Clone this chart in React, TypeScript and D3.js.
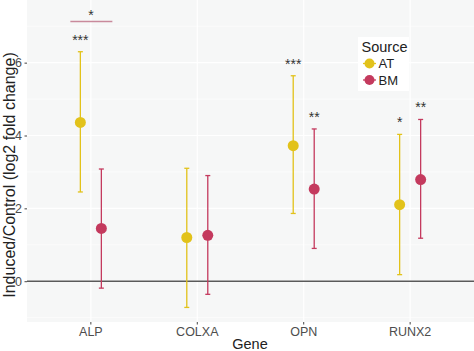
import React, { useEffect, useRef } from 'react';
import * as d3 from 'd3';

const genes = ['ALP', 'COLXA', 'OPN', 'RUNX2'];
const sources = ['AT', 'BM'];
const colors = ['#E2C21A', '#C43A5E'];

// per gene, order matches genes
const atMean = [4.36, 1.2, 3.72, 2.1];
const atLow = [2.45, -0.72, 1.86, 0.18];
const atHigh = [6.3, 3.1, 5.64, 4.03];
const bmMean = [1.45, 1.26, 2.53, 2.79];
const bmLow = [-0.19, -0.36, 0.9, 1.18];
const bmHigh = [3.08, 2.9, 4.18, 4.44];

const atStars = ['***', '', '***', '*'];
const bmStars = ['', '', '**', '**'];
const yTicks = [0, 2, 4, 6];

const App = () => {
  const svgRef = useRef<SVGSVGElement>(null);

  useEffect(() => {
    const svg = d3.select(svgRef.current);
    svg.selectAll('*').remove();

    const width = 474;
    const height = 351;
    const margin = { top: 0, right: 0, bottom: 29, left: 27 };
    const font = 'Liberation Sans, Arial, sans-serif';

    const x = d3.scaleBand()
      .domain(genes)
      .range([margin.left, width - margin.right])
      .paddingOuter(0.1)
      .paddingInner(0);

    const y = d3.scaleLinear()
      .domain([-1.12, 7.72])
      .range([height - margin.bottom, margin.top]);

    const dodge = d3.scaleBand()
      .domain(sources)
      .range([-21, 21])
      .padding(0);

    const cx = (g: string) => (x(g) as number) + x.bandwidth() / 2;

    // panel
    svg.append('rect')
      .attr('x', margin.left)
      .attr('y', margin.top)
      .attr('width', width - margin.left - margin.right)
      .attr('height', height - margin.bottom - margin.top)
      .attr('fill', '#F6F7F7');

    // minor grid
    svg.append('g').selectAll('line')
      .data([-1, 1, 3, 5, 7])
      .join('line')
      .attr('x1', margin.left).attr('x2', width)
      .attr('y1', d => y(d)).attr('y2', d => y(d))
      .attr('stroke', '#ffffff').attr('stroke-width', 0.6);

    svg.append('g').selectAll('line')
      .data(yTicks)
      .join('line')
      .attr('x1', margin.left).attr('x2', width)
      .attr('y1', d => y(d)).attr('y2', d => y(d))
      .attr('stroke', '#ffffff').attr('stroke-width', 1.2);

    svg.append('g').selectAll('line')
      .data(genes)
      .join('line')
      .attr('x1', d => cx(d)).attr('x2', d => cx(d))
      .attr('y1', margin.top).attr('y2', height - margin.bottom)
      .attr('stroke', '#ffffff').attr('stroke-width', 1.2);

    // zero line
    svg.append('line')
      .attr('x1', margin.left).attr('x2', width)
      .attr('y1', y(0)).attr('y2', y(0))
      .attr('stroke', '#5a5a5a').attr('stroke-width', 1.4);

    // y axis
    const yAxis = svg.append('g')
      .attr('transform', `translate(${margin.left},0)`)
      .call(d3.axisLeft(y).tickValues(yTicks).tickSize(2.5).tickPadding(2.5));
    yAxis.select('.domain').remove();
    yAxis.selectAll('line').attr('stroke', '#444');
    yAxis.selectAll('text')
      .attr('fill', '#4d4d4d').attr('font-size', 12.5).attr('font-family', font);

    // x axis
    const xAxis = svg.append('g')
      .attr('transform', `translate(0,${height - margin.bottom})`)
      .call(d3.axisBottom(x).tickSize(2.5).tickPadding(3));
    xAxis.select('.domain').remove();
    xAxis.selectAll('line').attr('stroke', '#444');
    xAxis.selectAll('text')
      .attr('fill', '#4d4d4d').attr('font-size', 12.5).attr('font-family', font);

    // axis titles
    svg.append('text')
      .attr('x', 250)
      .attr('y', height - 2)
      .attr('text-anchor', 'middle')
      .attr('font-size', 14.5).attr('font-family', font).attr('fill', '#222')
      .text('Gene');

    svg.append('text')
      .attr('transform', `translate(15,175) rotate(-90)`)
      .attr('text-anchor', 'middle')
      .attr('font-size', 16).attr('font-family', font).attr('fill', '#222')
      .text('Induced/Control (log2 fold change)');

    const series = [
      { key: 'AT', mean: atMean, low: atLow, high: atHigh, stars: atStars, color: colors[0] },
      { key: 'BM', mean: bmMean, low: bmLow, high: bmHigh, stars: bmStars, color: colors[1] },
    ];

    series.forEach(s => {
      const px = (i: number) => cx(genes[i]) + (dodge(s.key) as number) + dodge.bandwidth() / 2;
      const g = svg.append('g');
      genes.forEach((gene, i) => {
        const xx = px(i);
        g.append('line')
          .attr('x1', xx).attr('x2', xx)
          .attr('y1', y(s.low[i])).attr('y2', y(s.high[i]))
          .attr('stroke', s.color).attr('stroke-width', 1.3);
        [s.low[i], s.high[i]].forEach(v => {
          g.append('line')
            .attr('x1', xx - 2.5).attr('x2', xx + 2.5)
            .attr('y1', y(v)).attr('y2', y(v))
            .attr('stroke', s.color).attr('stroke-width', 1.3);
        });
        g.append('circle')
          .attr('cx', xx).attr('cy', y(s.mean[i]))
          .attr('r', 5.5)
          .attr('fill', s.color);
        if (s.stars[i]) {
          g.append('text')
            .attr('x', xx).attr('y', y(s.high[i]) - 7)
            .attr('text-anchor', 'middle')
            .attr('font-size', 14).attr('font-family', font).attr('fill', '#333')
            .text(s.stars[i]);
        }
      });
    });

    // ALP comparison bracket
    const atX = cx('ALP') + (dodge('AT') as number) + dodge.bandwidth() / 2;
    const bmX = cx('ALP') + (dodge('BM') as number) + dodge.bandwidth() / 2;
    svg.append('line')
      .attr('x1', atX - 10).attr('x2', bmX + 11)
      .attr('y1', 21.5).attr('y2', 21.5)
      .attr('stroke', '#C98A9C').attr('stroke-width', 1.5);
    svg.append('text')
      .attr('x', (atX + bmX) / 2).attr('y', 20)
      .attr('text-anchor', 'middle')
      .attr('font-size', 14).attr('font-family', font).attr('fill', '#333')
      .text('*');

    // legend
    const lg = svg.append('g').attr('transform', 'translate(358,37)');
    lg.append('rect')
      .attr('width', 51).attr('height', 54)
      .attr('fill', '#ffffff');
    lg.append('text')
      .attr('x', 3.5).attr('y', 14.5)
      .attr('font-size', 14.5).attr('font-family', font).attr('fill', '#222')
      .text('Source');
    sources.forEach((s, i) => {
      const yy = 26.5 + i * 16.5;
      lg.append('line')
        .attr('x1', 5).attr('x2', 18)
        .attr('y1', yy).attr('y2', yy)
        .attr('stroke', colors[i]).attr('stroke-width', 1.3);
      lg.append('circle')
        .attr('cx', 11.5).attr('cy', yy).attr('r', 5)
        .attr('fill', colors[i]);
      lg.append('text')
        .attr('x', 20.5).attr('y', yy + 4.5)
        .attr('font-size', 13).attr('font-family', font).attr('fill', '#222')
        .text(s);
    });
  }, []);

  return (
    <svg ref={svgRef} width={474} height={351}
      style={{ position: 'absolute', left: 0, top: 0, background: '#fff' }} />
  );
};

export default App;
